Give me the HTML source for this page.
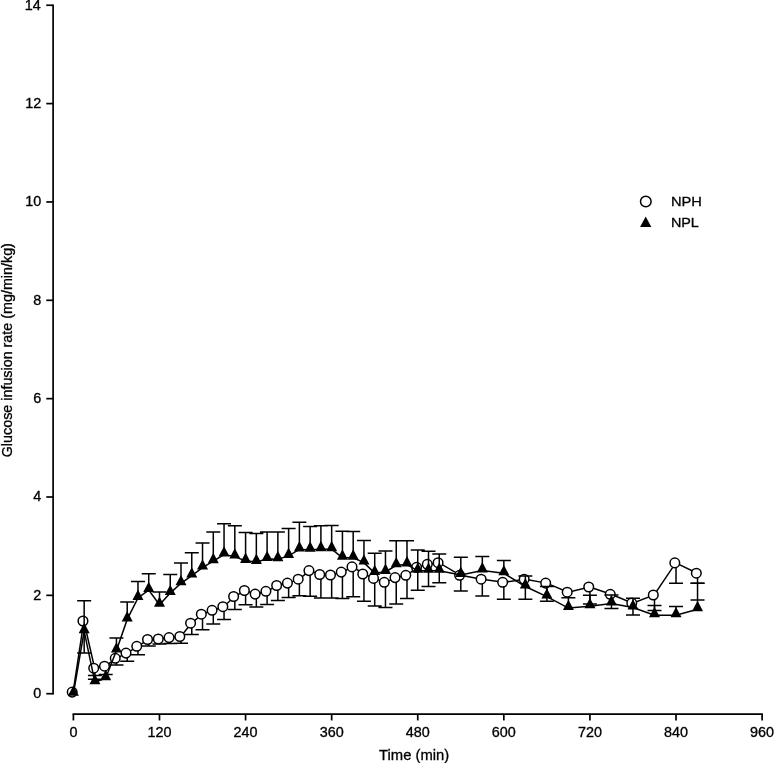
<!DOCTYPE html>
<html lang="en"><head><meta charset="utf-8"><title>Glucose infusion rate</title>
<style>
html,body{margin:0;padding:0;background:#fff;}
body{width:774px;height:763px;overflow:hidden;}
svg{display:block;}
text{font-family:"Liberation Sans",Arial,Helvetica,sans-serif;fill:#000;stroke:#000;stroke-width:0.3px;}
</style></head><body>
<svg width="774" height="763" viewBox="0 0 774 763">
<rect width="774" height="763" fill="#fff"/>

<g stroke="#000" stroke-width="1.7" fill="none" stroke-linecap="butt">
<path d="M53.1 4.4 V694.55"/>
<path d="M46.3 693.7 H53.1"/>
<path d="M46.3 595.35 H53.1"/>
<path d="M46.3 497 H53.1"/>
<path d="M46.3 398.65 H53.1"/>
<path d="M46.3 300.3 H53.1"/>
<path d="M46.3 201.95 H53.1"/>
<path d="M46.3 103.6 H53.1"/>
<path d="M46.3 5.25 H53.1"/>
<path d="M72.55 714.05 H762.95"/>
<path d="M73.4 714.05 V720.45"/>
<path d="M159.49 714.05 V720.45"/>
<path d="M245.58 714.05 V720.45"/>
<path d="M331.66 714.05 V720.45"/>
<path d="M417.75 714.05 V720.45"/>
<path d="M503.84 714.05 V720.45"/>
<path d="M589.93 714.05 V720.45"/>
<path d="M676.02 714.05 V720.45"/>
<path d="M762.1 714.05 V720.45"/>
</g>
<text transform="translate(41.2 698.05) scale(1.045 1)" font-size="13.8" text-anchor="end">0</text>
<text transform="translate(41.2 599.7) scale(1.045 1)" font-size="13.8" text-anchor="end">2</text>
<text transform="translate(41.2 501.35) scale(1.045 1)" font-size="13.8" text-anchor="end">4</text>
<text transform="translate(41.2 403) scale(1.045 1)" font-size="13.8" text-anchor="end">6</text>
<text transform="translate(41.2 304.65) scale(1.045 1)" font-size="13.8" text-anchor="end">8</text>
<text transform="translate(41.2 206.3) scale(1.045 1)" font-size="13.8" text-anchor="end">10</text>
<text transform="translate(41.2 107.95) scale(1.045 1)" font-size="13.8" text-anchor="end">12</text>
<text transform="translate(40.7 10.3) scale(1.045 1)" font-size="13.8" text-anchor="end">14</text>
<text transform="translate(73.4 736.5) scale(1.045 1)" font-size="13.8" text-anchor="middle">0</text>
<text transform="translate(159.49 736.5) scale(1.045 1)" font-size="13.8" text-anchor="middle">120</text>
<text transform="translate(245.58 736.5) scale(1.045 1)" font-size="13.8" text-anchor="middle">240</text>
<text transform="translate(331.66 736.5) scale(1.045 1)" font-size="13.8" text-anchor="middle">360</text>
<text transform="translate(417.75 736.5) scale(1.045 1)" font-size="13.8" text-anchor="middle">480</text>
<text transform="translate(503.84 736.5) scale(1.045 1)" font-size="13.8" text-anchor="middle">600</text>
<text transform="translate(589.93 736.5) scale(1.045 1)" font-size="13.8" text-anchor="middle">720</text>
<text transform="translate(676.02 736.5) scale(1.045 1)" font-size="13.8" text-anchor="middle">840</text>
<text transform="translate(762.1 736.5) scale(1.045 1)" font-size="13.8" text-anchor="middle">960</text>
<text transform="translate(414.1 760) scale(1.015 1)" font-size="14.6" text-anchor="middle">Time (min)</text>
<text transform="translate(11.8 350.2) rotate(-90) scale(0.995 1)" font-size="14.4" text-anchor="middle">Glucose infusion rate (mg/min/kg)</text>
<circle cx="645.8" cy="201.5" r="5.3" fill="#fff" stroke="#000" stroke-width="1.5"/>
<path d="M645.7 216.6 L651.3 226.9 H640.1 Z" fill="#000"/>
<text transform="translate(670.9 206.3) scale(1.07 1)" font-size="13.7" text-anchor="start">NPH</text>
<text transform="translate(670.9 227.4) scale(1.05 1)" font-size="13.7" text-anchor="start">NPL</text>
<g stroke="#000" stroke-width="1.5" fill="none">
<polyline points="73.1,692.1 83.86,621 94.62,668.2 105.38,666.2 116.14,658.3 126.91,653.1 137.67,646.3 148.43,639.5 159.19,639 169.95,637.6 180.71,636.5 191.47,623.2 202.23,614.2 212.99,610.3 223.75,606.7 234.52,596.5 245.28,590.5 256.04,594.1 266.8,591.3 277.56,585.5 288.32,583.1 299.08,579.2 309.84,570.6 320.6,574.5 331.36,575 342.13,572.1 352.89,566.9 363.65,574 374.41,578.4 385.17,582.3 395.93,577.6 406.69,575.3 417.45,567.4 428.21,564.3 438.97,562.7 460.5,575.3 482.02,579.2 503.54,582.3 525.06,579.2 546.58,583.1 568.11,592.2 589.63,587 611.15,594.3 632.67,603.1 654.19,595 675.72,562.9 697.24,573.2"/>
<path d="M94.92 668.2V675.4M87.92 675.4H101.92M105.68 666.2V674.4M98.68 674.4H112.68M116.44 658.3V664.9M109.44 664.9H123.44M127.21 653.1V661.3M120.21 661.3H134.21M137.97 646.3V654.7M130.97 654.7H144.97M148.73 639.5V646M141.73 646H155.73M159.49 639V643.9M152.49 643.9H166.49M170.25 637.6V643.6M163.25 643.6H177.25M181.01 636.5V643.2M174.01 643.2H188.01M191.77 623.2V634.4M184.77 634.4H198.77M202.53 614.2V629.8M195.53 629.8H209.53M213.29 610.3V624M206.29 624H220.29M224.05 606.7V619.6M217.05 619.6H231.05M234.82 596.5V609.4M227.82 609.4H241.82M245.58 590.5V604.8M238.58 604.8H252.58M256.34 594.1V607M249.34 607H263.34M267.1 591.3V604.4M260.1 604.4H274.1M277.86 585.5V600.4M270.86 600.4H284.86M288.62 583.1V597.6M281.62 597.6H295.62M299.38 579.2V595.7M292.38 595.7H306.38M310.14 570.6V596.2M303.14 596.2H317.14M320.9 574.5V598.1M313.9 598.1H327.9M331.66 575V598.1M324.66 598.1H338.66M342.43 572.1V598.4M335.43 598.4H349.43M353.19 566.9V596.8M346.19 596.8H360.19M363.95 574V601.2M356.95 601.2H370.95M374.71 578.4V605.9M367.71 605.9H381.71M385.47 582.3V607.5M378.47 607.5H392.47M396.23 577.6V604M389.23 604H403.23M406.99 575.3V598.5M399.99 598.5H413.99M417.75 567.4V590.2M410.75 590.2H424.75M428.51 564.3V586.6M421.51 586.6H435.51M439.27 562.7V582.8M432.27 582.8H446.27M460.8 575.3V591M453.8 591H467.8M482.32 579.2V596M475.32 596H489.32M503.84 582.3V599.3M496.84 599.3H510.84M525.36 579.2V599.3M518.36 599.3H532.36M546.88 583.1V601.2M539.88 601.2H553.88M589.93 587V604M582.93 604H596.93M611.45 594.3V608.6M604.45 608.6H618.45M632.97 603.1V615M625.97 615H639.97M654.49 595V610.5M647.49 610.5H661.49M676.02 562.9V583.3M669.02 583.3H683.02M697.54 573.2V583.3M690.54 583.3H704.54"/>
</g>
<g stroke="#000" stroke-width="1.5" fill="#fff">
<circle cx="72.2" cy="692.1" r="4.8"/>
<circle cx="82.96" cy="621" r="4.8"/>
<circle cx="93.72" cy="668.2" r="4.8"/>
<circle cx="104.48" cy="666.2" r="4.8"/>
<circle cx="115.24" cy="658.3" r="4.8"/>
<circle cx="126.01" cy="653.1" r="4.8"/>
<circle cx="136.77" cy="646.3" r="4.8"/>
<circle cx="147.53" cy="639.5" r="4.8"/>
<circle cx="158.29" cy="639" r="4.8"/>
<circle cx="169.05" cy="637.6" r="4.8"/>
<circle cx="179.81" cy="636.5" r="4.8"/>
<circle cx="190.57" cy="623.2" r="4.8"/>
<circle cx="201.33" cy="614.2" r="4.8"/>
<circle cx="212.09" cy="610.3" r="4.8"/>
<circle cx="222.85" cy="606.7" r="4.8"/>
<circle cx="233.62" cy="596.5" r="4.8"/>
<circle cx="244.38" cy="590.5" r="4.8"/>
<circle cx="255.14" cy="594.1" r="4.8"/>
<circle cx="265.9" cy="591.3" r="4.8"/>
<circle cx="276.66" cy="585.5" r="4.8"/>
<circle cx="287.42" cy="583.1" r="4.8"/>
<circle cx="298.18" cy="579.2" r="4.8"/>
<circle cx="308.94" cy="570.6" r="4.8"/>
<circle cx="319.7" cy="574.5" r="4.8"/>
<circle cx="330.46" cy="575" r="4.8"/>
<circle cx="341.23" cy="572.1" r="4.8"/>
<circle cx="351.99" cy="566.9" r="4.8"/>
<circle cx="362.75" cy="574" r="4.8"/>
<circle cx="373.51" cy="578.4" r="4.8"/>
<circle cx="384.27" cy="582.3" r="4.8"/>
<circle cx="395.03" cy="577.6" r="4.8"/>
<circle cx="405.79" cy="575.3" r="4.8"/>
<circle cx="416.55" cy="567.4" r="4.8"/>
<circle cx="427.31" cy="564.3" r="4.8"/>
<circle cx="438.07" cy="562.7" r="4.8"/>
<circle cx="459.6" cy="575.3" r="4.8"/>
<circle cx="481.12" cy="579.2" r="4.8"/>
<circle cx="502.64" cy="582.3" r="4.8"/>
<circle cx="524.16" cy="579.2" r="4.8"/>
<circle cx="545.68" cy="583.1" r="4.8"/>
<circle cx="567.21" cy="592.2" r="4.8"/>
<circle cx="588.73" cy="587" r="4.8"/>
<circle cx="610.25" cy="594.3" r="4.8"/>
<circle cx="631.77" cy="603.1" r="4.8"/>
<circle cx="653.29" cy="595" r="4.8"/>
<circle cx="674.82" cy="562.9" r="4.8"/>
<circle cx="696.34" cy="573.2" r="4.8"/>
</g>
<g stroke="#000" stroke-width="1.5" fill="none">
<polyline points="73.4,693.8 84.16,631.2 94.92,682.3 105.68,678.2 116.44,650.6 127.21,619.4 137.97,597.9 148.73,590.1 159.49,604.8 170.25,593.1 181.01,583.3 191.77,575.6 202.53,567.6 213.29,561.2 224.05,554.6 234.82,556.6 245.58,560.9 256.34,561.9 267.1,559.1 277.86,559.2 288.62,555.9 299.38,549.4 310.14,549.7 320.9,549.2 331.66,549.2 342.43,557.7 353.19,557.7 363.95,562.6 374.71,573.1 385.47,571.9 396.23,565.3 406.99,564.5 417.75,570.8 428.51,570.8 439.27,570.8 460.8,574.9 482.32,570.5 503.84,573.3 525.36,586.5 546.88,596.6 568.41,608.1 589.93,606.3 611.45,603.4 632.97,607.6 654.49,615.3 676.02,615.3 697.54,609.2"/>
<path d="M84.16 628.6V653.1M77.16 653.1H91.16M84.16 628.6V600.7M77.16 600.7H91.16M94.92 679.7V679.3M87.92 679.3H101.92M116.44 648V638M109.44 638H123.44M127.21 616.8V602.1M120.21 602.1H134.21M137.97 595.3V581.6M130.97 581.6H144.97M148.73 587.5V573.8M141.73 573.8H155.73M159.49 602.2V592.1M152.49 592.1H166.49M170.25 590.5V574.6M163.25 574.6H177.25M181.01 580.7V563M174.01 563H188.01M191.77 573V552.8M184.77 552.8H198.77M202.53 565V543M195.53 543H209.53M213.29 558.6V532M206.29 532H220.29M224.05 552V523.8M217.05 523.8H231.05M234.82 554V525.7M227.82 525.7H241.82M245.58 558.3V532.5M238.58 532.5H252.58M256.34 559.3V533.4M249.34 533.4H263.34M267.1 556.5V532M260.1 532H274.1M277.86 556.6V532M270.86 532H284.86M288.62 553.3V528.6M281.62 528.6H295.62M299.38 546.8V522.3M292.38 522.3H306.38M310.14 547.1V526.5M303.14 526.5H317.14M320.9 546.6V525.7M313.9 525.7H327.9M331.66 546.6V525.4M324.66 525.4H338.66M342.43 555.1V531.2M335.43 531.2H349.43M353.19 555.1V531.5M346.19 531.5H360.19M363.95 560V540.5M356.95 540.5H370.95M374.71 570.5V553.3M367.71 553.3H381.71M385.47 569.3V550.9M378.47 550.9H392.47M396.23 562.7V540.7M389.23 540.7H403.23M406.99 561.9V540.7M399.99 540.7H413.99M417.75 568.2V550.1M410.75 550.1H424.75M428.51 568.2V551.2M421.51 551.2H435.51M439.27 568.2V554M432.27 554H446.27M460.8 572.3V557.2M453.8 557.2H467.8M482.32 567.9V556.4M475.32 556.4H489.32M503.84 570.7V560.6M496.84 560.6H510.84M525.36 583.9V576M518.36 576H532.36M546.88 594V586.5M539.88 586.5H553.88M568.41 605.5V597.8M561.41 597.8H575.41M589.93 603.7V595.3M582.93 595.3H596.93M611.45 600.8V594.9M604.45 594.9H618.45M632.97 605V598.2M625.97 598.2H639.97M654.49 612.7V605.5M647.49 605.5H661.49M676.02 612.7V606.6M669.02 606.6H683.02M697.54 606.6V599.9M690.54 599.9H704.54M697.54 606.6V583.3M690.54 583.3H704.54"/>
</g>
<path fill="#000" d="M73.4 685.4L78.9 695.8H67.9ZM84.16 622.8L89.66 633.2H78.66ZM94.92 673.9L100.42 684.3H89.42ZM105.68 669.8L111.18 680.2H100.18ZM116.44 642.2L121.94 652.6H110.94ZM127.21 611L132.71 621.4H121.71ZM137.97 589.5L143.47 599.9H132.47ZM148.73 581.7L154.23 592.1H143.23ZM159.49 596.4L164.99 606.8H153.99ZM170.25 584.7L175.75 595.1H164.75ZM181.01 574.9L186.51 585.3H175.51ZM191.77 567.2L197.27 577.6H186.27ZM202.53 559.2L208.03 569.6H197.03ZM213.29 552.8L218.79 563.2H207.79ZM224.05 546.2L229.55 556.6H218.55ZM234.82 548.2L240.32 558.6H229.32ZM245.58 552.5L251.08 562.9H240.08ZM256.34 553.5L261.84 563.9H250.84ZM267.1 550.7L272.6 561.1H261.6ZM277.86 550.8L283.36 561.2H272.36ZM288.62 547.5L294.12 557.9H283.12ZM299.38 541L304.88 551.4H293.88ZM310.14 541.3L315.64 551.7H304.64ZM320.9 540.8L326.4 551.2H315.4ZM331.66 540.8L337.16 551.2H326.16ZM342.43 549.3L347.93 559.7H336.93ZM353.19 549.3L358.69 559.7H347.69ZM363.95 554.2L369.45 564.6H358.45ZM374.71 564.7L380.21 575.1H369.21ZM385.47 563.5L390.97 573.9H379.97ZM396.23 556.9L401.73 567.3H390.73ZM406.99 556.1L412.49 566.5H401.49ZM417.75 562.4L423.25 572.8H412.25ZM428.51 562.4L434.01 572.8H423.01ZM439.27 562.4L444.77 572.8H433.77ZM460.8 566.5L466.3 576.9H455.3ZM482.32 562.1L487.82 572.5H476.82ZM503.84 564.9L509.34 575.3H498.34ZM525.36 578.1L530.86 588.5H519.86ZM546.88 588.2L552.38 598.6H541.38ZM568.41 599.7L573.91 610.1H562.91ZM589.93 597.9L595.43 608.3H584.43ZM611.45 595L616.95 605.4H605.95ZM632.97 599.2L638.47 609.6H627.47ZM654.49 606.9L659.99 617.3H648.99ZM676.02 606.9L681.52 617.3H670.52ZM697.54 600.8L703.04 611.2H692.04Z"/>
</svg></body></html>
